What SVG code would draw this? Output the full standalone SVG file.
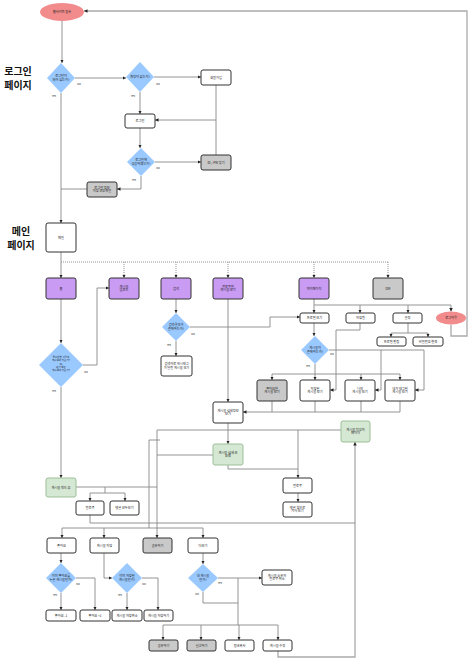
<svg xmlns="http://www.w3.org/2000/svg" width="474" height="663" viewBox="0 0 474 663">
<defs>
<marker id="a" viewBox="0 0 6 6" refX="6" refY="3" markerWidth="3.5" markerHeight="3.5" markerUnits="userSpaceOnUse" orient="auto"><path d="M0,0 L6,3 L0,6 z" fill="#222"/></marker>
<style>
.b{fill:#fff;stroke:#333;stroke-width:1}
.g{fill:#c9c9c9;stroke:#333;stroke-width:1}
.p{fill:#c99bf3;stroke:#333;stroke-width:1}
.gr{fill:#d5e8d4;stroke:#9dbf99;stroke-width:1}
.d{fill:#99c9ff}
.e{fill:#f28b8b}
.c{fill:none;stroke:#888;stroke-width:0.9;marker-end:url(#a)}
.n{fill:none;stroke:#888;stroke-width:0.9}
.dt{fill:none;stroke:#888;stroke-width:0.9;stroke-dasharray:1 1}
.dta{fill:none;stroke:#888;stroke-width:0.9;stroke-dasharray:1 1;marker-end:url(#a)}
.ret{fill:none;stroke:#aaa;stroke-width:1.3;marker-end:url(#a)}
text{font-family:"Noto Sans CJK KR","Noto Sans",sans-serif;font-size:3.2px;fill:#222;text-anchor:middle}
.big{font-size:10px;font-weight:bold;fill:#111}
.l{font-size:2.6px}
.s{font-size:2.5px}
</style>
</defs>
<rect width="474" height="663" fill="#fff"/>
<g id="connectors">
<path class="c" d="M62,21V63"/>
<path class="c" d="M75,78H126"/>
<path class="c" d="M61,93V223"/>
<path class="c" d="M154,77H201"/>
<path class="c" d="M140,92V114"/>
<path class="c" d="M216,85V120H155"/>
<path class="n" d="M216,155V120"/>
<path class="c" d="M140,128V148"/>
<path class="c" d="M155,162H201"/>
<path class="c" d="M141,176V189H117"/>
<path class="n" d="M87,189H61"/>
<path class="c" d="M61,252V278"/>
<path class="dt" d="M61,262H388"/>
<path class="dta" d="M124,262V278"/>
<path class="dta" d="M176,262V278"/>
<path class="dta" d="M228,262V278"/>
<path class="dta" d="M314,262V278"/>
<path class="dta" d="M388,262V278"/>
<path class="n" d="M314,299V305H451"/>
<path class="c" d="M314,305V313"/>
<path class="c" d="M360,305V313"/>
<path class="c" d="M408,305V313"/>
<path class="c" d="M451,305V311.5"/>
<path class="n" d="M408,323V333M391,333H428"/>
<path class="c" d="M391,333V337"/>
<path class="c" d="M428,333V337"/>
<path class="ret" d="M451,324.5V336H467V11H84"/>
<path class="c" d="M176,299V313"/>
<path class="c" d="M176,341V356"/>
<path class="c" d="M190,327H270V317H300"/>
<path class="c" d="M314,323V336"/>
<path class="n" d="M315,364V374M272,374H400"/>
<path class="c" d="M272,374V380"/>
<path class="c" d="M315,374V380"/>
<path class="c" d="M361,374V380"/>
<path class="c" d="M400,374V380"/>
<path class="n" d="M329,350H424"/>
<path class="c" d="M381,350V390H375"/>
<path class="c" d="M424,350V390H415"/>
<path class="c" d="M360,323V330H336V390H330"/>
<path class="n" d="M272,401V412M315,401V412M361,401V412"/>
<path class="c" d="M400,401V412H243"/>
<path class="c" d="M228,299V402"/>
<path class="c" d="M228,423V444"/>
<path class="c" d="M61,299V343"/>
<path class="c" d="M83,365H97V288H109"/>
<path class="c" d="M61,387V478"/>
<path class="n" d="M76,487H157"/>
<path class="n" d="M105,487V493M90,493H125"/>
<path class="c" d="M90,493V501"/>
<path class="c" d="M125,493V501"/>
<path class="n" d="M341,430H157V528"/>
<path class="n" d="M213,455H157"/>
<path class="n" d="M160,440H149V528"/>
<path class="n" d="M228,465V469H298"/>
<path class="c" d="M298,430V478"/>
<path class="c" d="M298,493V502"/>
<path class="ret" d="M278,651V657H355V442"/>
<path class="n" d="M355,523H90V515"/>
<path class="n" d="M62,528H203"/>
<path class="c" d="M62,528V538"/>
<path class="c" d="M104,528V538"/>
<path class="c" d="M157,528V538"/>
<path class="c" d="M203,528V538"/>
<path class="c" d="M61,553V563"/>
<path class="c" d="M61,593V610"/>
<path class="c" d="M76,578H95V610"/>
<path class="c" d="M104,553V578H112"/>
<path class="c" d="M127,593V610"/>
<path class="c" d="M142,578H158V610"/>
<path class="c" d="M203,553V564"/>
<path class="c" d="M218,578H262"/>
<path class="n" d="M238,578V625M203,592V603H238M163,625H278"/>
<path class="c" d="M163,625V640"/>
<path class="c" d="M201,625V640"/>
<path class="c" d="M239,625V640"/>
<path class="c" d="M278,625V640"/>
</g>
<g id="edge-labels">
<text class="l" x="79" y="85">No</text><text class="l" x="54" y="97">Yes</text>
<text class="l" x="158" y="85">No</text><text class="l" x="133" y="97">Yes</text>
<text class="l" x="158" y="169">No</text><text class="l" x="134" y="181">Yes</text>
<text class="l" x="193" y="335">No</text><text class="l" x="169" y="346">Yes</text>
<text class="l" x="332" y="355">No</text><text class="l" x="308" y="367">Yes</text>
<text class="l" x="86" y="373">No</text><text class="l" x="54" y="392">Yes</text>
<text class="l" x="78" y="585">No</text><text class="l" x="55" y="596">Yes</text>
<text class="l" x="144" y="585">No</text><text class="l" x="120" y="596">Yes</text>
<text class="l" x="220" y="584">Yes</text><text class="l" x="197" y="595">No</text>
</g>
<g id="title-login"><text class="big" x="18" y="74.5">로그인</text><text class="big" x="18" y="88.5">페이지</text></g>
<g id="title-main"><text class="big" x="21" y="234.5">메인</text><text class="big" x="21" y="248.5">페이지</text></g>
<g id="start"><ellipse class="e" cx="62" cy="12" rx="22" ry="9"/><text x="62" y="13.2">웹사이트 접속</text></g>
<g id="d-logged"><polygon class="d" points="61,63 75,78 61,93 47,78"/><text x="61" y="77">로그인이</text><text x="61" y="80.5">되어 있는가?</text></g>
<g id="d-account"><polygon class="d" points="140,62 154,77 140,92 126,77"/><text x="140" y="78">계정이 있는가?</text></g>
<g id="signup"><rect class="b" x="201" y="70" width="30" height="15" rx="2"/><text x="216" y="78.5">회원가입</text></g>
<g id="login"><rect class="b" x="125" y="114" width="30" height="14" rx="2"/><text x="140" y="122">로그인</text></g>
<g id="d-success"><polygon class="d" points="141,148 155,162 141,176 127,162"/><text x="141" y="161">로그인에</text><text x="141" y="164.5">성공하였는가?</text></g>
<g id="find"><rect class="g" x="201" y="155" width="30" height="15" rx="2"/><text x="216" y="163.5">ID / PW 찾기</text></g>
<g id="keep"><rect class="g" x="87" y="182" width="30" height="15" rx="2"/><text x="102" y="188.5">로그인 정보</text><text x="102" y="192">저장 여부확인</text></g>
<g id="main"><rect class="b" x="46" y="223" width="30" height="29" rx="2"/><text x="61" y="238.5">메인</text></g>
<g id="home"><rect class="p" x="46" y="278" width="30" height="21" rx="2"/><text x="61" y="289.5">홈</text></g>
<g id="upload"><rect class="p" x="109" y="278" width="30" height="21" rx="2"/><text x="124" y="287.5">게시물</text><text x="124" y="291">업로드</text></g>
<g id="search"><rect class="p" x="161" y="278" width="30" height="21" rx="2"/><text x="176" y="289.5">검색</text></g>
<g id="follow-feed"><rect class="p" x="213" y="278" width="30" height="21" rx="2"/><text x="228" y="287.5">팔로우한</text><text x="228" y="291">게시물 보기</text></g>
<g id="mypage"><rect class="p" x="299" y="278" width="30" height="21" rx="2"/><text x="314" y="289.5">마이페이지</text></g>
<g id="dm"><rect class="g" x="373" y="278" width="30" height="21" rx="2"/><text x="388" y="289.5">DM</text></g>
<g id="profile"><rect class="b" x="300" y="313" width="29" height="10" rx="2"/><text x="314.5" y="319">프로필 보기</text></g>
<g id="saved"><rect class="b" x="346" y="313" width="29" height="10" rx="2"/><text x="360.5" y="319">저장됨</text></g>
<g id="settings"><rect class="b" x="393" y="313" width="29" height="10" rx="2"/><text x="407.5" y="319">설정</text></g>
<g id="logout"><ellipse class="e" cx="451" cy="318" rx="15" ry="6.5"/><text x="451" y="319.2">로그아웃</text></g>
<g id="edit-profile"><rect class="b" x="377" y="337" width="29" height="9" rx="2"/><text x="391.5" y="342.5">프로필 편집</text></g>
<g id="change-pw"><rect class="b" x="413" y="337" width="30" height="9" rx="2"/><text x="428" y="342.5">비밀번호 변경</text></g>
<g id="d-search"><polygon class="d" points="176,313 190,327 176,341 162,327"/><text x="176" y="326">검색결과가</text><text x="176" y="329.5">존재하는가?</text></g>
<g id="search-result"><rect class="b" x="161" y="356" width="31" height="20" rx="2"/><text x="176.5" y="365">검색어로 해시태그</text><text x="176.5" y="368.5">가 달린 게시물 보기</text></g>
<g id="d-posts"><polygon class="d" points="315,336 329,350 315,364 301,350"/><text x="315" y="349">게시물이</text><text x="315" y="352.5">존재하는가?</text></g>
<g id="liked"><rect class="g" x="257" y="380" width="30" height="21" rx="2"/><text x="272" y="389.5">좋아요한</text><text x="272" y="393">게시물 보기</text></g>
<g id="saved-posts"><rect class="b" x="300" y="380" width="30" height="21" rx="2"/><text x="315" y="389.5">저장된</text><text x="315" y="393">게시물 보기</text></g>
<g id="my-posts"><rect class="b" x="345" y="380" width="30" height="21" rx="2"/><text x="360" y="389.5">나의</text><text x="360" y="393">게시물 보기</text></g>
<g id="tagged"><rect class="b" x="385" y="380" width="30" height="21" rx="2"/><text x="400" y="389.5">내가 태그된</text><text x="400" y="393">게시물 보기</text></g>
<g id="detail"><rect class="b" x="213" y="402" width="30" height="21" rx="2"/><text x="228" y="411.5">게시물 상세정보</text><text x="228" y="415">보기</text></g>
<g id="d-feed"><polygon class="d" points="61,343 83,365 61,387 39,365"/><text class="s" x="61" y="358.2">팔로우한 사람의</text><text class="s" x="61" y="361.4">게시물이 있는가?</text><text class="s" x="61" y="364.6">or</text><text class="s" x="61" y="367.8">내가 올린</text><text class="s" x="61" y="371">게시물이 있는가?</text></g>
<g id="feed"><rect class="gr" x="46" y="478" width="30" height="19" rx="2"/><text x="61" y="488.5">게시물 피드 뷰</text></g>
<g id="post-request"><rect class="gr" x="213" y="444" width="30" height="21" rx="2"/><text x="228" y="453.5">게시물 상세 보</text><text x="228" y="457">요청</text></g>
<g id="author-page"><rect class="gr" x="341" y="421" width="29" height="21" rx="2"/><text x="355.5" y="430.5">게시물 작성자</text><text x="355.5" y="434">페이지</text></g>
<g id="follow1"><rect class="b" x="76" y="501" width="28" height="14" rx="2"/><text x="90" y="509">팔로우</text></g>
<g id="comments1"><rect class="b" x="110" y="501" width="29" height="14" rx="2"/><text x="124.5" y="509">댓글 모두보기</text></g>
<g id="follow2"><rect class="b" x="283" y="478" width="29" height="15" rx="2"/><text x="297.5" y="486.5">팔로우</text></g>
<g id="comments2"><rect class="b" x="283" y="502" width="29" height="15" rx="2"/><text x="297.5" y="508.5">댓글 창으로</text><text x="297.5" y="512">가서 보기</text></g>
<g id="like"><rect class="b" x="47" y="538" width="29" height="15" rx="2"/><text x="61.5" y="546.5">좋아요</text></g>
<g id="save-post"><rect class="b" x="90" y="538" width="29" height="15" rx="2"/><text x="104.5" y="546.5">게시물 저장</text></g>
<g id="share"><rect class="g" x="143" y="538" width="29" height="15" rx="2"/><text x="157.5" y="546.5">공유하기</text></g>
<g id="more"><rect class="b" x="188" y="538" width="30" height="15" rx="2"/><text x="203" y="546.5">더보기</text></g>
<g id="d-liked"><polygon class="d" points="61,563 76,578 61,593 46,578"/><text x="61" y="577">이미 좋아요를</text><text x="61" y="580.5">누른 게시물인가?</text></g>
<g id="d-saved"><polygon class="d" points="127,563 142,578 127,593 112,578"/><text x="127" y="577">이미 저장된</text><text x="127" y="580.5">게시물인가?</text></g>
<g id="d-mine"><polygon class="d" points="203,564 218,578 203,592 188,578"/><text x="203" y="577">내 게시물</text><text x="203" y="580.5">인가?</text></g>
<g id="like-minus"><rect class="b" x="46" y="610" width="30" height="11" rx="2"/><text x="61" y="616.5">좋아요 -1</text></g>
<g id="like-plus"><rect class="b" x="80" y="610" width="30" height="11" rx="2"/><text x="95" y="616.5">좋아요 +1</text></g>
<g id="unsave"><rect class="b" x="112" y="610" width="30" height="11" rx="2"/><text x="127" y="616.5">게시물 저장취소</text></g>
<g id="do-save"><rect class="b" x="144" y="610" width="29" height="11" rx="2"/><text x="158.5" y="616.5">게시물 저장하기</text></g>
<g id="unfollow"><rect class="b" x="262" y="570" width="30" height="15" rx="2"/><text x="277" y="576.5">게시물 소유자</text><text x="277" y="580">팔로우 취소</text></g>
<g id="share2"><rect class="g" x="149" y="640" width="29" height="11" rx="2"/><text x="163.5" y="646.5">공유하기</text></g>
<g id="report"><rect class="g" x="187" y="640" width="29" height="11" rx="2"/><text x="201.5" y="646.5">신고하기</text></g>
<g id="copy-link"><rect class="b" x="225" y="640" width="29" height="11" rx="2"/><text x="239.5" y="646.5">링크복사</text></g>
<g id="edit-post"><rect class="b" x="263" y="640" width="29" height="11" rx="2"/><text x="277.5" y="646.5">게시물 수정</text></g>
</svg>
